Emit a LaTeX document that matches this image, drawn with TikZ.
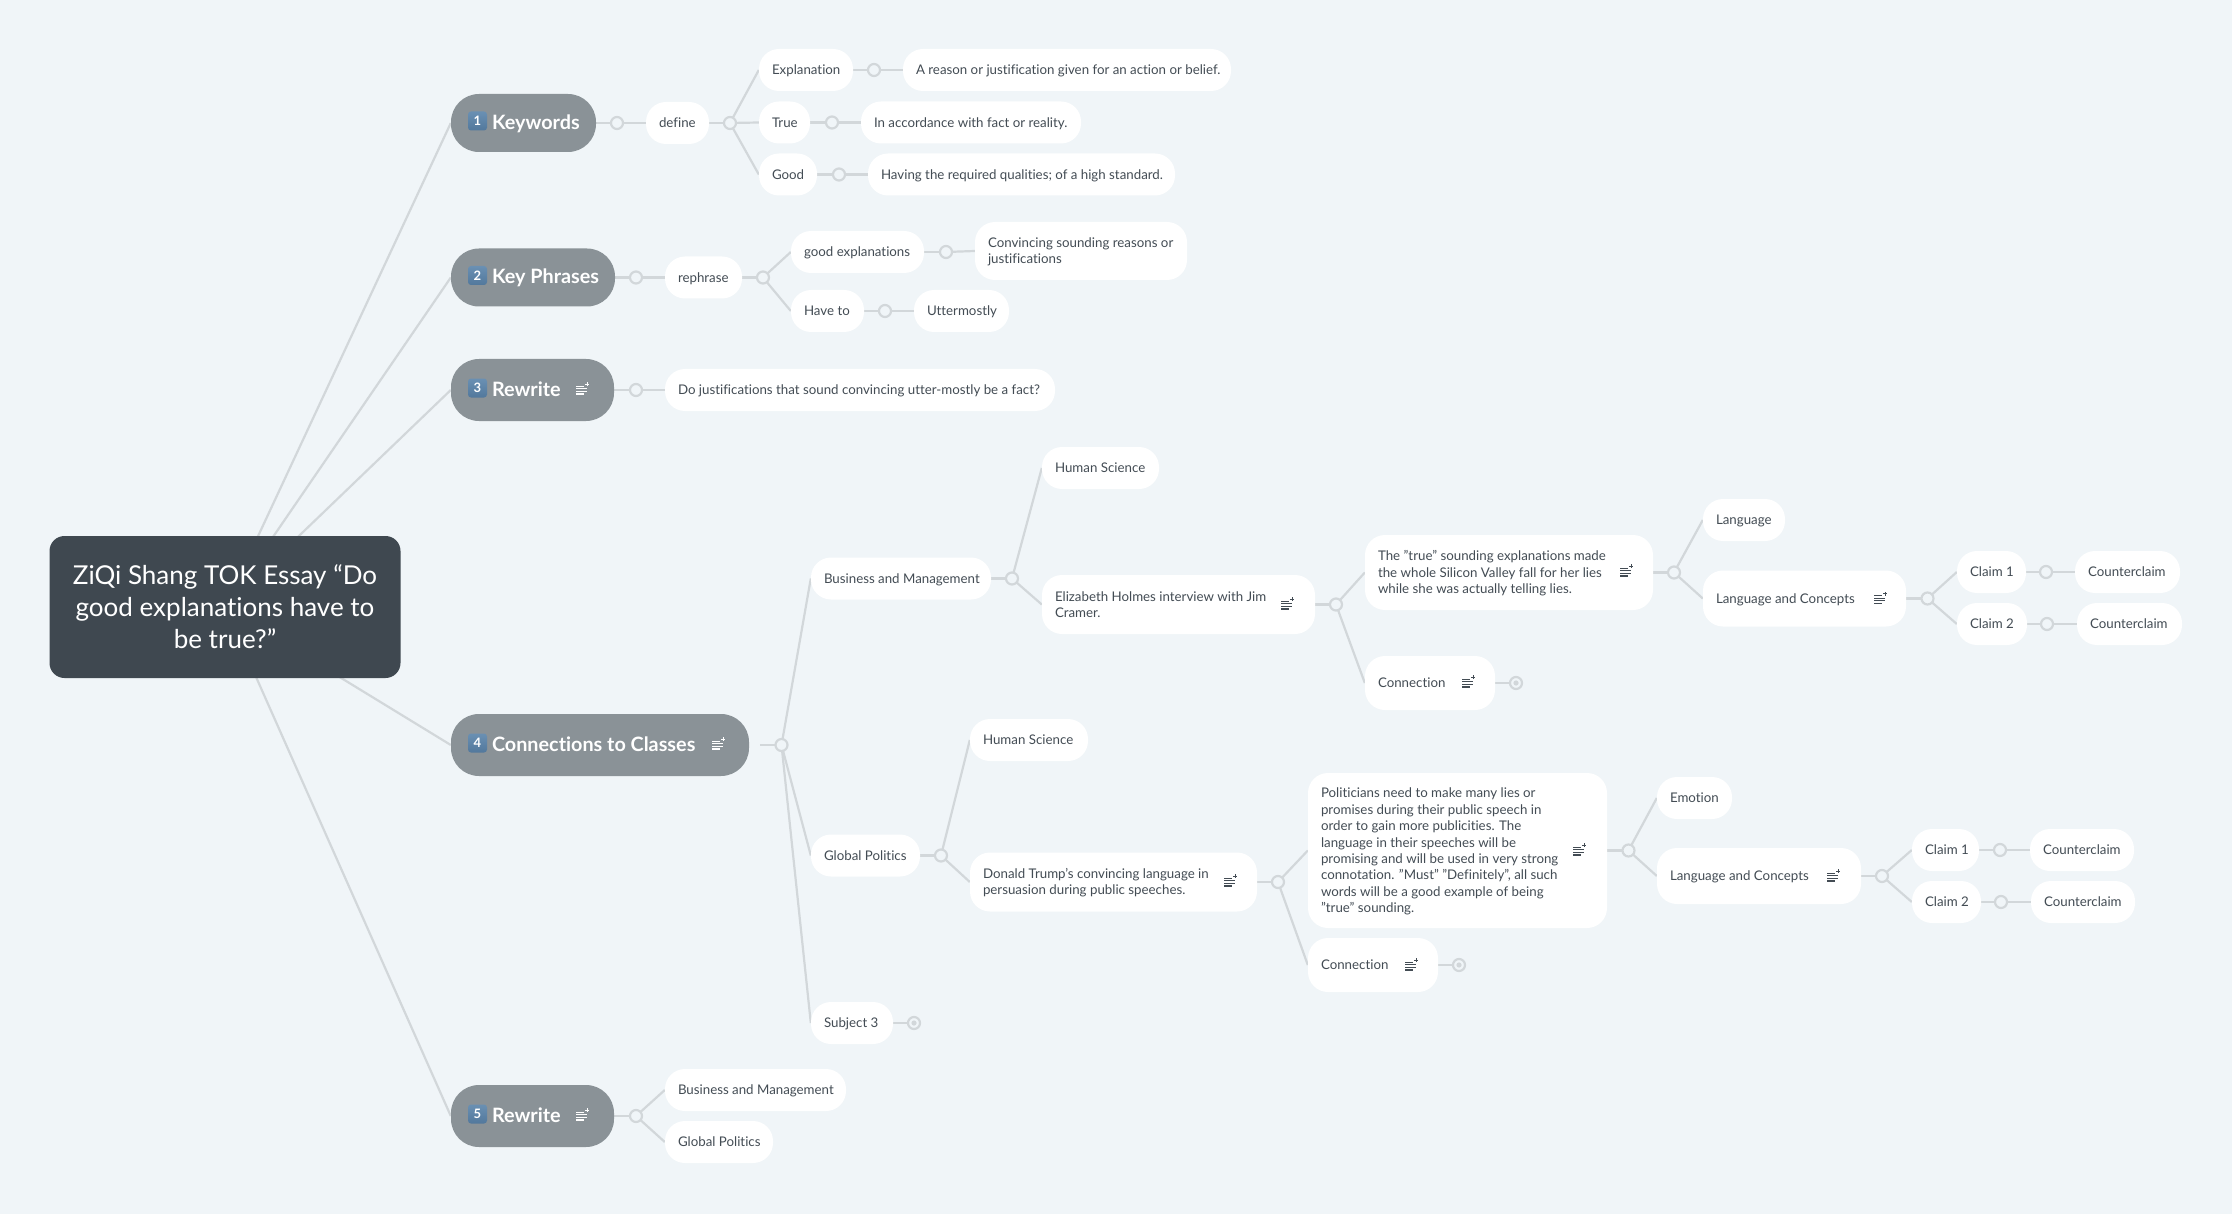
\documentclass[tikz,border=0pt]{standalone}
\usepackage{fontspec}
\setmainfont{Lato}[Ligatures=NoCommon]
\usetikzlibrary{backgrounds}
\definecolor{bgc}{HTML}{F0F5F8}
\definecolor{linec}{HTML}{D2D7DA}
\definecolor{topicc}{HTML}{8A9297}
\definecolor{rootc}{HTML}{3F4850}
\definecolor{textc}{HTML}{434C54}
\tikzset{
  conn/.style={draw=linec,line width=2.2pt},
  hub/.style={circle,draw=linec,line width=2.2pt,fill=bgc,minimum size=12pt,inner sep=0pt},
  hubdot/.style={hub,path picture={\fill[linec] (path picture bounding box.center) circle (2.6pt);}},
  basebox/.style={rounded corners=20pt,inner xsep=13pt,inner ysep=0pt},
  subbox/.style={basebox,fill=white,text=textc,font=\fontsize{13.3}{16.4}\selectfont},
  topicbox/.style={basebox,fill=topicc,text=white,font=\fontsize{19.8}{24}\selectfont\bfseries,rounded corners=28pt},
  rootbox/.style={rounded corners=15pt,fill=rootc,text=white,align=center,inner sep=0pt,font=\fontsize{26}{32}\selectfont},
  keycap/.style={rounded corners=3pt,top color=KeyT,bottom color=KeyB,text=white,minimum size=19pt,inner sep=0pt,font=\fontsize{13}{13}\selectfont\bfseries},
}
\definecolor{KeyT}{HTML}{6A90B3}
\definecolor{KeyB}{HTML}{52789C}
% \nd[style]{name}{left}{right}{centre y}{height}{text}
\newcommand\nd[7][subbox]{%
  \pgfmathsetmacro\ndw{#4-#3}\pgfmathsetmacro\ndt{#4-#3-26}\pgfmathsetmacro\ndx{(#3+#4)/2}%
  \node[#1,minimum width=\ndw pt,minimum height=#6pt] (#2) at (\ndx,#5)
    {\makebox[\ndt pt][l]{\raisebox{0pt}[\dimexpr\height+3pt\relax][\depth]{\begin{tabular}{@{}l@{}}#7\end{tabular}}}};}
% note icon
\newcommand\ico[3]{%
  \begin{scope}[shift={(#1,#2)}]
    \fill[#3] (-6,-3.3) rectangle (2,-2.2);
    \fill[#3] (-6,-0.8) rectangle (5,0.3);
    \fill[#3] (-6,1.7) rectangle (5,2.8);
    \fill[#3] (-6,4.4) rectangle (2,5.5);
    \fill[#3] (3.3,-5.1) rectangle (7.1,-4.2);
    \fill[#3] (4.75,-6.6) rectangle (5.65,-2.7);
  \end{scope}}
\begin{document}
\begin{tikzpicture}[x=1pt,y=-1pt]
\useasboundingbox (0,0) rectangle (2232,1214);
\begin{scope}[on background layer]
  \fill[bgc] (0,0) rectangle (2232,1214);
\end{scope}
\node[rootbox,minimum width=351pt,minimum height=142pt] (root) at (225,607) {ZiQi Shang TOK Essay “Do\\good explanations have to\\be true?”};
% topics
\nd[topicbox]{t1}{451}{596}{123}{58}{\hspace*{28pt}Keywords}
\nd[topicbox]{t2}{451}{615}{277.5}{58}{\hspace*{28pt}Key Phrases}
\nd[topicbox]{t3}{451}{614}{390}{62}{\hspace*{28pt}Rewrite}
\nd[topicbox]{t4}{451}{749}{745}{62}{\hspace*{28pt}Connections to Classes}
\nd[topicbox]{t5}{451}{614}{1116}{62}{\hspace*{28pt}Rewrite}
\node[keycap] (k1) at (477.5,121) {1};
\node[keycap] (k2) at (477.5,275.5) {2};
\node[keycap] (k3) at (477.5,388) {3};
\node[keycap] (k4) at (477.5,743) {4};
\node[keycap] (k5) at (477.5,1114) {5};
% Keywords
\node[hub] (h1a) at (617,123) {};
\nd{define}{646}{709}{123}{42}{define}
\node[hub] (h1b) at (730,123) {};
\nd{expl}{759}{853}{70}{42}{Explanation}
\node[hub] (h1c) at (874,70) {};
\nd{expld}{903}{1231}{70}{42}{A reason or justification given for an action or belief.}
\nd{true}{759}{810}{122.5}{42}{True}
\node[hub] (h1d) at (832,122.5) {};
\nd{trued}{861}{1081}{122.5}{42}{In accordance with fact or reality.}
\nd{good}{759}{817}{174.5}{42}{Good}
\node[hub] (h1e) at (839,174.5) {};
\nd{goodd}{868}{1175}{174.5}{42}{Having the required qualities; of a high standard.}
% Key phrases
\node[hub] (h2a) at (636,277.5) {};
\nd{reph}{665}{742}{277.5}{42}{rephrase}
\node[hub] (h2b) at (763,277.5) {};
\nd{goodex}{791}{924}{252}{42}{good explanations}
\node[hub] (h2c) at (946,252) {};
\nd{goodexd}{975}{1187}{251}{58}{Convincing sounding reasons or\\justifications}
\nd{have}{791}{864}{311}{42}{Have to}
\node[hub] (h2d) at (885,311) {};
\nd{utter}{914}{1009}{311}{42}{Uttermostly}
% Rewrite 3
\node[hub] (h3a) at (636,390) {};
\nd{rw}{665}{1055}{390}{42}{Do justifications that sound convincing utter-mostly be a fact?}
% Connections
\coordinate (cstub) at (760,745);
\node[hub] (h4) at (781.5,745) {};
\nd{bm}{811}{991}{578.5}{42}{Business and Management}
\node[hub] (hbm) at (1012,578.5) {};
\nd{hs1}{1042}{1159}{468}{42}{Human Science}
\nd{eliz}{1042}{1315}{604.5}{59}{Elizabeth Holmes interview with Jim\\Cramer.}
\node[hub] (hel) at (1336,604.5) {};
\nd{tru}{1365}{1653}{572.5}{75}{The "true" sounding explanations made\\the whole Silicon Valley fall for her lies\\while she was actually telling lies.}
\node[hub] (htr) at (1674,572.5) {};
\nd{conn1}{1365}{1495}{683}{54}{Connection}
\node[hubdot] (hc1) at (1516,683) {};
\nd{lang1}{1703}{1785}{520}{42}{Language}
\nd{lc1}{1703}{1906}{598.5}{56}{Language and Concepts}
\node[hub] (hl1) at (1927.5,598.5) {};
\nd{c11}{1957}{2026}{572}{42}{Claim 1}
\node[hub] (hc11) at (2046,572) {};
\nd{cc11}{2075}{2180}{572}{42}{Counterclaim}
\nd{c12}{1957}{2027}{624}{42}{Claim 2}
\node[hub] (hc12) at (2047,624) {};
\nd{cc12}{2077}{2182}{624}{42}{Counterclaim}
\nd{gp}{811}{920}{855.5}{42}{Global Politics}
\node[hub] (hgp) at (941,855.5) {};
\nd{hs2}{970}{1088}{740}{42}{Human Science}
\nd{don}{970}{1257}{882}{59}{Donald Trump's convincing language in\\persuasion during public speeches.}
\node[hub] (hdo) at (1278,882) {};
\nd{pol}{1308}{1607}{850.5}{155}{Politicians need to make many lies or\\promises during their public speech in\\order to gain more publicities. The\\language in their speeches will be\\promising and will be used in very strong\\connotation. "Must" "Definitely", all such\\words will be a good example of being\\"true" sounding.}
\node[hub] (hpo) at (1628.5,850.5) {};
\nd{conn2}{1308}{1438}{965}{54}{Connection}
\node[hubdot] (hc2) at (1459,965) {};
\nd{emo}{1657}{1732}{798}{42}{Emotion}
\nd{lc2}{1657}{1861}{876}{56}{Language and Concepts}
\node[hub] (hl2) at (1882,876) {};
\nd{c21}{1912}{1979}{850}{42}{Claim 1}
\node[hub] (hc21) at (2000,850) {};
\nd{cc21}{2030}{2134}{850}{42}{Counterclaim}
\nd{c22}{1912}{1981}{902}{42}{Claim 2}
\node[hub] (hc22) at (2001,902) {};
\nd{cc22}{2031}{2135}{902}{42}{Counterclaim}
\nd{s3}{811}{893}{1023}{42}{Subject 3}
\node[hubdot] (hs3) at (914,1023) {};
% Rewrite 5
\node[hub] (h5) at (636,1116) {};
\nd{rbm}{665}{846}{1090}{42}{Business and Management}
\nd{rgp}{665}{773}{1142}{42}{Global Politics}
% icons
\ico{582}{389}{white}
\ico{718}{744}{white}
\ico{582}{1115}{white}
\ico{1287}{604}{textc}
\ico{1626}{571}{textc}
\ico{1468}{682}{textc}
\ico{1880}{598.5}{textc}
\ico{1230}{881}{textc}
\ico{1579}{850}{textc}
\ico{1411}{965}{textc}
\ico{1833}{876}{textc}
\begin{scope}[on background layer]
  \foreach \b in {t1,t2,t3,t4,t5}
    \draw[conn] (root.center) -- (\b.west);
  % node east -> hub
  \foreach \a/\b in {t1/h1a,define/h1b,expl/h1c,true/h1d,good/h1e,
      t2/h2a,reph/h2b,goodex/h2c,have/h2d,t3/h3a,
      bm/hbm,eliz/hel,tru/htr,conn1/hc1,lc1/hl1,c11/hc11,c12/hc12,
      gp/hgp,don/hdo,pol/hpo,conn2/hc2,lc2/hl2,c21/hc21,c22/hc22,s3/hs3,t5/h5}
    \draw[conn] (\a.east) -- (\b.center);
  % hub -> node west
  \foreach \a/\b in {h1a/define,h1b/expl,h1b/true,h1b/good,h1c/expld,h1d/trued,h1e/goodd,
      h2a/reph,h2b/goodex,h2b/have,h2c/goodexd,h2d/utter,h3a/rw,
      h4/bm,h4/gp,h4/s3,hbm/hs1,hbm/eliz,hel/tru,hel/conn1,htr/lang1,htr/lc1,hl1/c11,hl1/c12,hc11/cc11,hc12/cc12,
      hgp/hs2,hgp/don,hdo/pol,hdo/conn2,hpo/emo,hpo/lc2,hl2/c21,hl2/c22,hc21/cc21,hc22/cc22,
      h5/rbm,h5/rgp}
    \draw[conn] (\a.center) -- (\b.west);
  \draw[conn] (cstub) -- (h4.center);
\end{scope}
\end{tikzpicture}
\end{document}
